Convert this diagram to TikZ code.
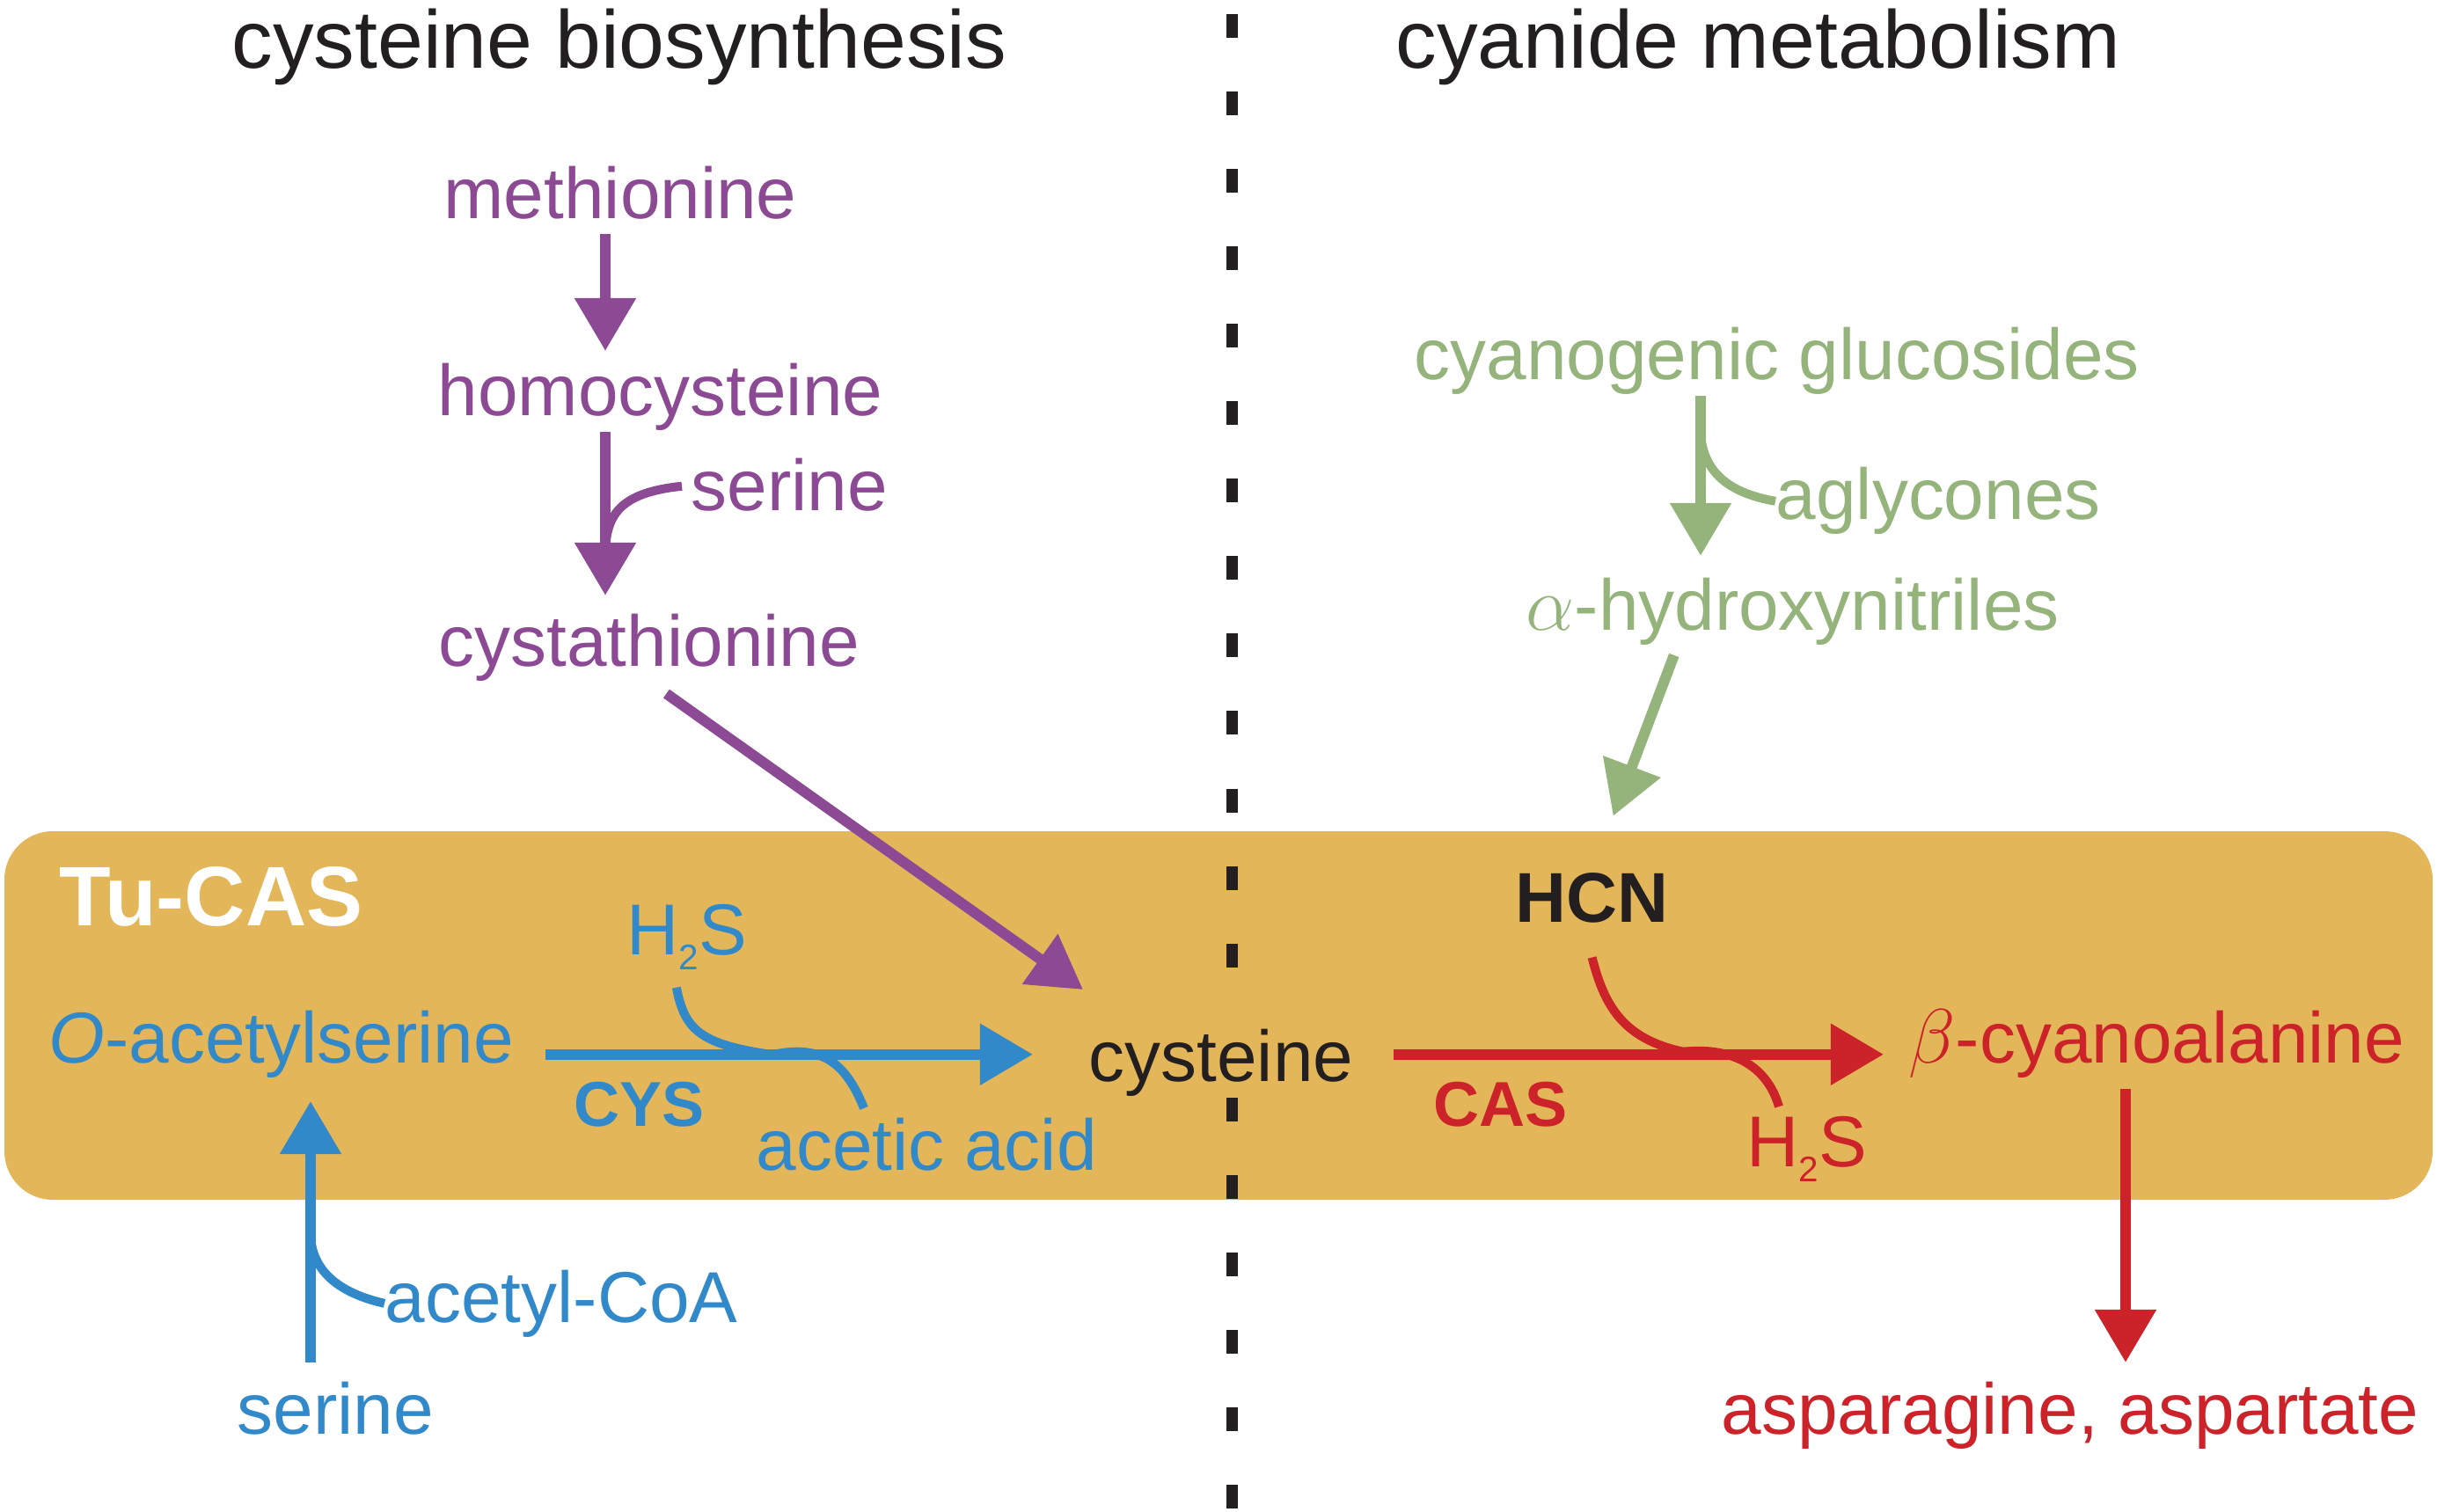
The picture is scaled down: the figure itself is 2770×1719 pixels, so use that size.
\documentclass[tikz,border=0pt]{standalone}
\usepackage{fontspec}
\setmainfont{Liberation Sans}
\usetikzlibrary{arrows.meta,calc}
\definecolor{ink}{HTML}{231F20}
\definecolor{metpurple}{HTML}{8B4A93}
\definecolor{oasblue}{HTML}{3189CA}
\definecolor{casred}{HTML}{CC2229}
\definecolor{cngreen}{HTML}{95B47C}
\definecolor{tucas}{HTML}{E3B759}
\newcommand{\sulf}{H{\fontsize{11.5}{12}\selectfont\raisebox{-1.7mm}{2}}S}
\tikzset{
  lbl/.style={inner sep=0pt, anchor=base west, font=\fontsize{23.3}{28}\selectfont},
  ttl/.style={inner sep=0pt, anchor=base west, text=ink, font=\fontsize{26.5}{32}\selectfont},
  enz/.style={inner sep=0pt, anchor=base west, font=\bfseries\fontsize{20.5}{25}\selectfont},
  rxn/.style={line width=1.2mm, -{Triangle[length=6mm,width=6.7mm]}},
  side/.style={line width=1mm},
  divider/.style={ink, line width=1.3mm, dash pattern=on 2.7mm off 6.1mm},
}
\begin{document}
\begin{tikzpicture}[x=0.01cm, y=-0.01cm]
	\useasboundingbox (0,0) rectangle (2770,1719);
	% enzyme band
	\fill[tucas, rounded corners=5.5mm] (5,945) rectangle (2765,1364);
	\draw[divider] (1400,16) -- (1400,1110);
	\draw[divider] (1400,1248) -- (1400,1719);
	
	\node[ttl] (tl) at (263,78) {cysteine biosynthesis};
	\node[ttl] (tr) at (1586,78) {cyanide metabolism};
	
	% reverse transsulfuration
	\node[lbl, text=metpurple] (met) at (504,249) {methionine};
	\node[lbl, text=metpurple] (homo) at (497,473) {homocysteine};
	\node[lbl, text=metpurple] (ser1) at (785,581) {serine};
	\node[lbl, text=metpurple] (cysta) at (498,757) {cystathionine};
	\coordinate (pcol) at (688,0);
	\coordinate (pjoin) at (688,625);
	\coordinate (ptip) at (1231,1125);
	\draw[metpurple, rxn, shorten <=1.5mm, shorten >=1.4mm] (met.south -| pcol) -- (homo.north -| pcol);
	\draw[metpurple, rxn, shorten >=2mm] (homo.south -| pcol) -- (cysta.north -| pcol);
	\draw[metpurple, side, shorten <=1mm] (ser1.west) .. controls (705,560) and (690,585) .. (pjoin);
	\draw[metpurple, rxn, shorten <=2.4mm] (cysta.south) -- (ptip);
	
	% Tu-CAS band
	\node[inner sep=0pt, anchor=base west, text=white, font=\bfseries\fontsize{27.3}{32}\selectfont] (tu) at (67,1052) {Tu-CAS};
	\node[lbl, text=oasblue] (oas) at (55,1208) {\textit{O}-acetylserine};
	\node[lbl, text=oasblue] (h2sa) at (712,1085) {\sulf};
	\node[enz, text=oasblue] (cysenz) at (652,1280) {CYS};
	\node[lbl, text=oasblue] (acet) at (859,1330) {acetic acid};
	\node[lbl, text=ink] (cys) at (1237,1229) {cysteine};
	\node[inner sep=0pt, anchor=base west, text=ink, font=\bfseries\fontsize{22.8}{27}\selectfont] (hcn) at (1722,1048) {HCN};
	\node[enz, text=casred] (casenz) at (1629,1280) {CAS};
	\node[lbl, text=casred] (h2sb) at (1985,1326) {\sulf};
	\node[lbl, text=casred] (bcy) at (2169,1208) {$\beta$-cyanoalanine};
	
	% O-acetylserine route
	\node[lbl, text=oasblue] (acoa) at (437,1503) {acetyl-CoA};
	\node[lbl, text=oasblue] (ser2) at (269,1630) {serine};
	\coordinate (bcol) at (353,0);
	\coordinate (bjoin1) at (875,0);
	\coordinate (bjoin2) at (880,0);
	\coordinate (bjoin3) at (353,1405);
	\draw[oasblue, rxn, shorten <=3.5mm, shorten >=6.3mm] (oas.mid east) -- (oas.mid east -| cys.west);
	\draw[oasblue, side] ($(h2sa.south)+(-12,20)$) .. controls (778,1170) and (795,1187) .. (oas.mid east -| bjoin1);
	\draw[oasblue, side] (oas.mid east -| bjoin2) .. controls (935,1187) and (962,1210) .. ($(acet.north west)+(123,-10)$);
	\draw[oasblue, rxn, shorten <=2.1mm, shorten >=4.4mm] (ser2.north -| bcol) -- (oas.base -| bcol);
	\draw[oasblue, side] (acoa.west) .. controls (385,1470) and (355,1445) .. (bjoin3);
	
	% cyanide route
	\node[lbl, text=cngreen] (glu) at (1607,432) {cyanogenic glucosides};
	\node[lbl, text=cngreen] (agl) at (2018,591) {aglycones};
	\node[lbl, text=cngreen] (ahn) at (1734,716) {$\alpha$-hydroxynitriles};
	\node[lbl, text=casred] (asp) at (1956,1630) {asparagine, aspartate};
	\coordinate (gcol) at (1933,0);
	\coordinate (gjoin) at (1933,495);
	\coordinate (gdiag) at (1907,0);
	\coordinate (rcol) at (2416,0);
	\coordinate (rjoin1) at (1930,0);
	\coordinate (rjoin2) at (1895,0);
	\draw[cngreen, rxn, shorten >=2.4mm] (glu.south -| gcol) -- (ahn.north -| gcol);
	\draw[cngreen, side] (agl.west) .. controls (1962,560) and (1937,535) .. (gjoin);
	\draw[cngreen, rxn, shorten <=1.2mm, shorten >=6.8mm] (ahn.south -| gdiag) -- (hcn.north);
	\draw[casred, rxn, shorten <=4.5mm, shorten >=2.8mm] (bcy.mid west -| cys.east) -- (bcy.mid west);
	\draw[casred, side] ($(hcn.south)+(0,39)$) .. controls (1825,1150) and (1850,1187) .. (bcy.mid west -| rjoin1);
	\draw[casred, side] (bcy.mid west -| rjoin2) .. controls (1950,1187) and (2005,1200) .. ($(h2sb.north west)+(37,-10)$);
	\draw[casred, rxn, shorten <=1.2mm, shorten >=2.1mm] (bcy.south -| rcol) -- (asp.north -| rcol);
\end{tikzpicture}
\end{document}
